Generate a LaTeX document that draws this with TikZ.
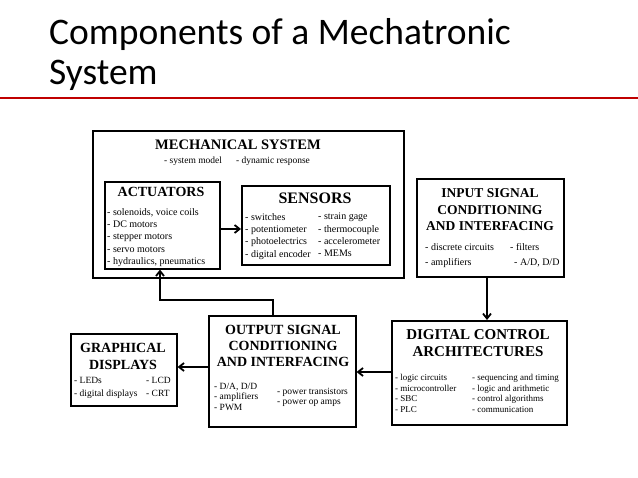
\documentclass[tikz,border=0pt]{standalone}
\usepackage{fontspec}
\setmainfont{Liberation Serif}
\newfontfamily\titlefont{Carlito}
\usetikzlibrary{arrows.meta}
\begin{document}
\begin{tikzpicture}[x=1pt,y=-1pt,
  box/.style={draw,line width=1.6pt},
  hd/.style={font=\fontsize{14}{15}\selectfont\bfseries,align=center},
  it/.style={font=\fontsize{10.5}{12}\selectfont,align=left,anchor=north west,inner sep=0},
  conn/.style={line width=1.8pt,-{Straight Barb[length=5pt,width=8pt]}}]
\useasboundingbox (0,0) rectangle (638,478);
\node[anchor=north west,align=left,inner sep=0,font=\titlefont\fontsize{37.5}{40}\selectfont] (title) at (49,18) {Components of a Mechatronic\\System};
\draw[color={rgb,255:red,192;green,0;blue,0},line width=1.2pt] (0,98) -- (638,98);
% boxes
\node[box,minimum width=311,minimum height=147,anchor=north west] (mech) at (92,130) {};
\node[box,minimum width=115,minimum height=87,anchor=north west] (act) at (104,181) {};
\node[box,minimum width=148,minimum height=79,anchor=north west] (sen) at (241,185) {};
\node[box,minimum width=147,minimum height=98,anchor=north west] (inp) at (416,178) {};
\node[box,minimum width=175,minimum height=104,anchor=north west] (dig) at (391,320) {};
\node[box,minimum width=147,minimum height=111,anchor=north west] (out) at (208,315) {};
\node[box,minimum width=106,minimum height=72,anchor=north west] (gra) at (70,333) {};
% texts
\node[hd,font=\fontsize{14.5}{16}\selectfont\bfseries] (mecht) at (238,145) {MECHANICAL SYSTEM};
\node[font=\fontsize{9.5}{10}\selectfont] (mechi) at (237,161) {- system model\hspace{14pt}- dynamic response};
\node[hd] (actt) at (161,192) {ACTUATORS};
\node[it,font=\fontsize{10}{12.3}\selectfont] (acti) at (107,208) {- solenoids, voice coils\\- DC motors\\- stepper motors\\- servo motors\\- hydraulics, pneumatics};
\node[hd,font=\fontsize{16}{17}\selectfont\bfseries] (sent) at (315,198) {SENSORS};
\node[it,font=\fontsize{10}{12.3}\selectfont] (sena) at (245,213) {- switches\\- potentiometer\\- photoelectrics\\- digital encoder};
\node[it,font=\fontsize{10}{12.3}\selectfont] (senb) at (318,213) {- strain gage\\- thermocouple\\- accelerometer\\- MEMs};
\node[hd,font=\fontsize{13.5}{16.5}\selectfont\bfseries] (inpt) at (490,210) {INPUT SIGNAL\\CONDITIONING\\AND INTERFACING};
\node[it,font=\fontsize{10}{15}\selectfont] (inpa) at (425,243) {- discrete circuits\\- amplifiers};
\node[it,font=\fontsize{10}{15}\selectfont] (inpb) at (510,243) {- filters\\\hspace{4pt}- A/D, D/D};
\node[hd,font=\fontsize{15}{17}\selectfont\bfseries] (digt) at (478,343) {DIGITAL CONTROL\\ARCHITECTURES};
\node[it,font=\fontsize{9}{10.6}\selectfont] (diga) at (395,374) {- logic circuits\\- microcontroller\\- SBC\\- PLC};
\node[it,font=\fontsize{9}{10.6}\selectfont] (digb) at (472,374) {- sequencing and timing\\- logic and arithmetic\\- control algorithms\\- communication};
\node[hd,font=\fontsize{14}{16}\selectfont\bfseries] (outt) at (283,346) {OUTPUT SIGNAL\\CONDITIONING\\AND INTERFACING};
\node[it,font=\fontsize{9.5}{10.5}\selectfont] (outa) at (214,383) {- D/A, D/D\\- amplifiers\\- PWM};
\node[it,font=\fontsize{9.5}{10.5}\selectfont] (outb) at (277,388) {- power transistors\\- power op amps};
\node[hd,font=\fontsize{14}{17}\selectfont\bfseries] (grat) at (123,356) {GRAPHICAL\\DISPLAYS};
\node[it,font=\fontsize{9.5}{13}\selectfont] (graa) at (74,377) {- LEDs\\- digital displays};
\node[it,font=\fontsize{9.5}{13}\selectfont] (grab) at (146,377) {- LCD\\- CRT};
% connectors
\draw[conn] (act.east |- 0,229) -- (sen.west |- 0,229);
\draw[conn] (inp.south -| 487,0) -- (dig.north -| 487,0);
\draw[conn] (dig.west |- 0,372) -- (out.east |- 0,372);
\draw[conn] (out.west |- 0,367) -- (gra.east |- 0,367);
\draw[conn] (out.north -| 273,0) -- (273,300) -- (160,300) -- (act.south -| 160,0);
\end{tikzpicture}
\end{document}
